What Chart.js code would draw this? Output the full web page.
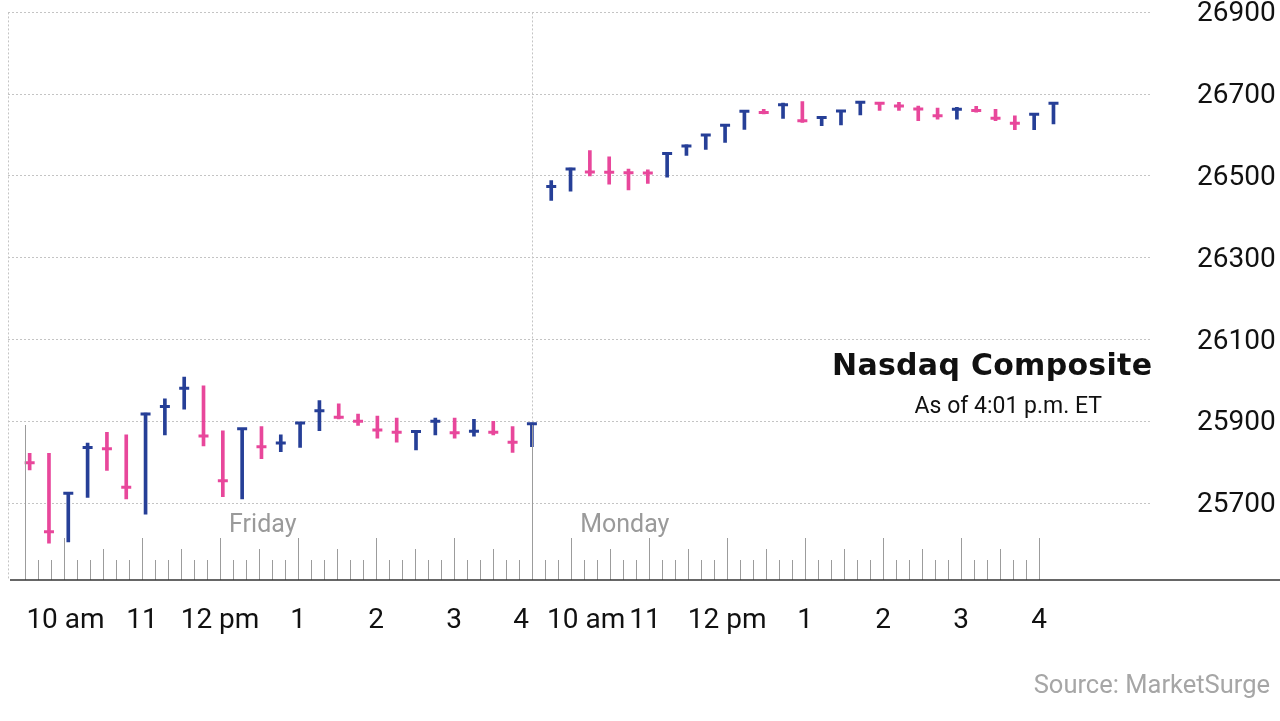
<!DOCTYPE html>
<html>
<head>
<meta charset="utf-8">
<script src="https://cdn.jsdelivr.net/npm/chart.js@4.4.1/dist/chart.umd.min.js"></script>
<style>
  html, body { margin: 0; padding: 0; background: #fff; }
  #wrap { width: 1280px; height: 721px; }
</style>
</head>
<body>
<div id="wrap"><canvas id="nasdaqChart" width="1280" height="721"></canvas></div>
<script>
// ======== Data (15-minute bars) ========
const prevClose = 25820; // Thursday close, only used to colour the first bar

const friHigh = [25822, 25822, 25724, 25847, 25873, 25867, 25920, 25955, 26008, 25987, 25877, 25883, 25887, 25867,
  25897, 25951, 25943, 25918, 25913, 25908, 25877, 25908, 25908, 25905, 25900, 25887, 25896];
const friLow = [25781, 25602, 25605, 25714, 25780, 25710, 25673, 25867, 25930, 25840, 25716, 25710, 25809, 25826,
  25836, 25877, 25906, 25890, 25859, 25849, 25830, 25867, 25859, 25864, 25867, 25824, 25838];
const friClose = [25799, 25630, 25724, 25836, 25833, 25739, 25918, 25936, 25981, 25864, 25755, 25882, 25838, 25847,
  25896, 25926, 25910, 25900, 25879, 25873, 25875, 25900, 25872, 25876, 25873, 25849, 25894];

const monHigh = [26489, 26519, 26562, 26547, 26517, 26515, 26556, 26576, 26602, 26625, 26660, 26663, 26678, 26682,
  26645, 26660, 26682, 26679, 26680, 26671, 26666, 26668, 26670, 26663, 26647, 26653, 26680];
const monLow = [26440, 26463, 26500, 26480, 26466, 26482, 26497, 26550, 26565, 26582, 26614, 26652, 26641, 26631,
  26623, 26625, 26649, 26660, 26660, 26635, 26639, 26639, 26656, 26635, 26613, 26613, 26627];
const monClose = [26474, 26517, 26510, 26509, 26508, 26507, 26555, 26573, 26600, 26624, 26658, 26655, 26674, 26635,
  26643, 26659, 26680, 26678, 26671, 26664, 26647, 26663, 26660, 26641, 26629, 26651, 26678];

const days = ["Friday", "Monday"];
const hourLabels = ["10 am", "11", "12 pm", "1", "2", "3", "4"];
const yTicks = [25700, 25900, 26100, 26300, 26500, 26700, 26900];

const titleText = "Nasdaq Composite";
const subtitleText = "As of 4:01 p.m. ET";
const sourceText = "Source: MarketSurge";

// ======== Styles ========
const BLUE = "#263f97";
const PINK = "#e8479b";
const GRID = "#c4c4c4";
const TICK = "#9c9c9c";
const FONT = "Roboto, 'Open Sans', sans-serif";
const SESSION = 390; // minutes from 9:30 to 4:00

const highs = friHigh.concat(monHigh);
const lows = friLow.concat(monLow);
const closes = friClose.concat(monClose);
const colors = closes.map((c, i) => (c >= (i ? closes[i - 1] : prevClose) ? BLUE : PINK));

// stretch a text to a given width with letter spacing
function fitText(ctx, text, x, y, width) {
  ctx.letterSpacing = "0px";
  const w = ctx.measureText(text).width;
  const extra = Math.max(0, (width - w) / (text.length - 1));
  ctx.letterSpacing = `${extra}px`;
  ctx.fillText(text, x + (ctx.textAlign === "right" ? extra : 0), y);
  ctx.letterSpacing = "0px";
}

// ======== Time axis: ticks, separators, labels ========
const timeAxis = {
  id: "timeAxis",
  beforeDatasetsDraw(chart) {
    const { ctx, chartArea } = chart;
    const x = chart.scales.x;
    const sepTop = chartArea.bottom - 155;
    ctx.save();
    ctx.strokeStyle = GRID;
    ctx.lineWidth = 1;
    ctx.setLineDash([2, 2]);
    ctx.beginPath();
    ctx.moveTo(chartArea.left + 0.5, chartArea.top);
    ctx.lineTo(chartArea.left + 0.5, chartArea.bottom);
    const mid = Math.round(x.getPixelForValue(SESSION)) + 0.5;
    ctx.moveTo(mid, chartArea.top);
    ctx.lineTo(mid, sepTop);
    ctx.stroke();
    ctx.restore();
  },
  afterDraw(chart) {
    const { ctx, chartArea } = chart;
    const x = chart.scales.x;
    const base = chartArea.bottom;
    ctx.save();

    // ticks every 10 minutes
    ctx.strokeStyle = TICK;
    ctx.lineWidth = 1;
    days.forEach((day, d) => {
      for (let m = 0; m <= SESSION; m += 10) {
        const clock = 570 + m;
        let h = 20;
        if (m === 0) h = 155;
        else if (clock % 60 === 0) h = 42;
        else if (clock % 30 === 0) h = 31;
        const px = Math.round(x.getPixelForValue(d * SESSION + m)) + 0.5;
        ctx.beginPath();
        ctx.moveTo(px, base);
        ctx.lineTo(px, base - h);
        ctx.stroke();
      }
    });

    // axis line
    ctx.strokeStyle = "#333";
    ctx.lineWidth = 1.5;
    ctx.beginPath();
    ctx.moveTo(chartArea.left + 2, base);
    ctx.lineTo(chart.width, base);
    ctx.stroke();

    // hour labels
    const nudge = { "0-0": 1.5, "0-6": -11, "1-0": 15, "1-1": -4 };
    ctx.fillStyle = "#111";
    ctx.font = `28px ${FONT}`;
    ctx.textAlign = "center";
    ctx.textBaseline = "alphabetic";
    days.forEach((day, d) => {
      hourLabels.forEach((lab, k) => {
        const px = x.getPixelForValue(d * SESSION + 30 + k * 60) + (nudge[`${d}-${k}`] || 0);
        ctx.fillText(lab, px, base + 48);
      });
    });

    // day names
    ctx.fillStyle = "#9a9a9a";
    ctx.font = `25px ${FONT}`;
    ctx.textAlign = "left";
    const dayAt = [157, 427];
    days.forEach((day, d) => ctx.fillText(day, x.getPixelForValue(dayAt[d]), base - 48));

    // title block
    ctx.fillStyle = "#111";
    ctx.textAlign = "right";
    ctx.font = "bold 30px 'DejaVu Sans', Roboto, sans-serif";
    fitText(ctx, titleText, chartArea.right, 375, 320);
    ctx.font = `23px ${FONT}`;
    ctx.fillText(subtitleText, 1102, 413);

    ctx.fillStyle = "#a6a6a6";
    ctx.font = `25.5px ${FONT}`;
    ctx.fillText(sourceText, 1270, 693);
    ctx.restore();
  },
};

// ======== Chart ========
new Chart(document.getElementById("nasdaqChart").getContext("2d"), {
  type: "bar",
  data: {
    datasets: [
      {
        type: "bar",
        xAxisID: "xb",
        yAxisID: "y",
        data: highs.map((h, i) => ({ x: i, y: [lows[i], h] })),
        backgroundColor: colors,
        borderWidth: 0,
        barThickness: 3,
        grouped: false,
      },
      {
        type: "scatter",
        xAxisID: "xb",
        yAxisID: "y",
        data: closes.map((c, i) => ({ x: i, y: c })),
        showLine: false,
        pointStyle: "line",
        pointRadius: 5,
        pointHoverRadius: 5,
        pointBorderWidth: 3,
        pointBorderColor: colors,
        pointBackgroundColor: colors,
      },
    ],
  },
  options: {
    responsive: false,
    animation: false,
    devicePixelRatio: 1,
    layout: { padding: { left: 6, top: 12.4, right: 0, bottom: 141 } },
    plugins: { legend: { display: false }, tooltip: { enabled: false } },
    scales: {
      x: { type: "linear", min: -13.05, max: 866.75, offset: false, grid: { offset: false }, display: false },
      xb: { type: "linear", min: -1.121, max: 58.1, offset: false, grid: { offset: false }, display: false },
      y: {
        position: "right",
        min: 25512,
        max: 26900,
        afterBuildTicks: (s) => {
          s.ticks = yTicks.map((v) => ({ value: v }));
        },
        afterFit: (s) => {
          s.width = 128;
          s.paddingTop = 0;
          s.paddingBottom = 0;
        },
        grid: { color: GRID, lineWidth: 1, drawTicks: false },
        border: { display: false, dash: [2, 2] },
        ticks: {
          color: "#111",
          padding: 45,
          labelOffset: 2,
          font: { family: FONT, size: 28 },
          callback: (v) => String(v),
        },
      },
    },
  },
  plugins: [timeAxis],
});
</script>
</body>
</html>
